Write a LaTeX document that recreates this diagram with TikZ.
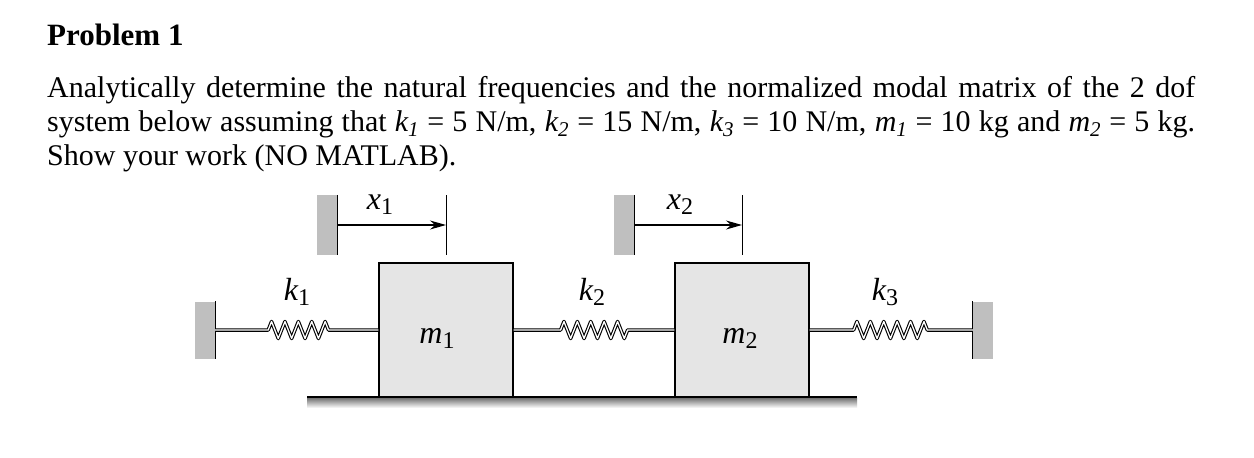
\documentclass[tikz,border=0pt]{standalone}
\usepackage{fontspec}
\setmainfont{Liberation Serif}
\usetikzlibrary{decorations.pathmorphing,arrows.meta}
\newcommand{\symb}[2]{{\itshape #1}\raisebox{-5pt}{\fontsize{24}{26}\selectfont #2}}
\tikzset{
  mass/.style={draw,line width=1.2pt,fill=black!10,minimum width=134pt,minimum height=134pt,inner sep=0pt},
  wallbox/.style={fill=black!25,minimum width=20pt,inner sep=0pt},
  wallline/.style={line width=1.3pt},
  lbl/.style={font=\fontsize{32}{34}\selectfont},
  spring/.style={line width=1.1pt,double=white,double distance=1.3pt,line join=round,
    decoration={zigzag,segment length=13.4pt,amplitude=8.5pt,pre length=#1,post length=44pt},decorate},
  disp/.style={line width=1.1pt,-{Stealth[length=16pt,width=9pt]}}
}
\begin{document}
\begin{tikzpicture}[x=1pt,y=-1pt]
\useasboundingbox[fill=white] (0,0) rectangle (1254,458);
\node[anchor=base west,inner sep=0pt,font=\bfseries\fontsize{31}{34}\selectfont] (title) at (47,45) {Problem 1};
\node[anchor=base west,inner sep=0pt,text width=1148pt,align=justify,font=\fontsize{30}{34}\selectfont] (body) at (47,97)
{Analytically determine the natural frequencies and the normalized modal matrix of the 2 dof\linebreak
system below assuming that \textit{k\textsubscript{1}} = 5 N/m, \textit{k\textsubscript{2}} = 15 N/m, \textit{k\textsubscript{3}} = 10 N/m, \textit{m\textsubscript{1}} = 10 kg and \textit{m\textsubscript{2}} = 5 kg.\linebreak
Show your work (NO MATLAB).\par};
% ground
\shade[top color=black!55,bottom color=white] (307,398) rectangle (857,408);
\draw[line width=1.5pt] (307,397) coordinate (g1) -- (857,397) coordinate (g2);
% masses
\node[mass] (m1) at (446,330) {};
\node[mass] (m2) at (742,330) {};
\node[lbl] at (437,338) {\symb{m}{1}};
\node[lbl] at (740,338) {\symb{m}{2}};
% walls
\node[wallbox,minimum height=57pt] (wl) at (205,330) {};
\draw[wallline] (wl.north east) -- (wl.south east);
\node[wallbox,minimum height=57pt] (wr) at (983,330) {};
\draw[wallline] (wr.north west) -- (wr.south west);
% springs
\draw[spring=53pt] (wl.east) -- (m1.west);
\draw[spring=47pt] (m1.east) -- (m2.west);
\draw[spring=44pt] (m2.east) -- (wr.west);
\node[lbl] at (297,292) {\symb{k}{1}};
\node[lbl] at (592,292) {\symb{k}{2}};
\node[lbl] at (885,292) {\symb{k}{3}};
% displacement indicators
\node[wallbox,minimum width=21pt,minimum height=60pt] (r1) at (327,225) {};
\draw[wallline] (r1.north east) -- (r1.south east);
\coordinate (t1a) at (446,195); \coordinate (t1b) at (446,255);
\draw[line width=1pt] (t1a) -- (t1b);
\draw[disp] (r1.east) -- (r1.east -| t1a);
\node[lbl] at (380,205) {\symb{x}{1}};
\node[wallbox,minimum width=21pt,minimum height=60pt] (r2) at (624,225) {};
\draw[wallline] (r2.north east) -- (r2.south east);
\coordinate (t2a) at (742,195); \coordinate (t2b) at (742,255);
\draw[line width=1pt] (t2a) -- (t2b);
\draw[disp] (r2.east) -- (r2.east -| t2a);
\node[lbl] at (680,205) {\symb{x}{2}};
\end{tikzpicture}
\end{document}
